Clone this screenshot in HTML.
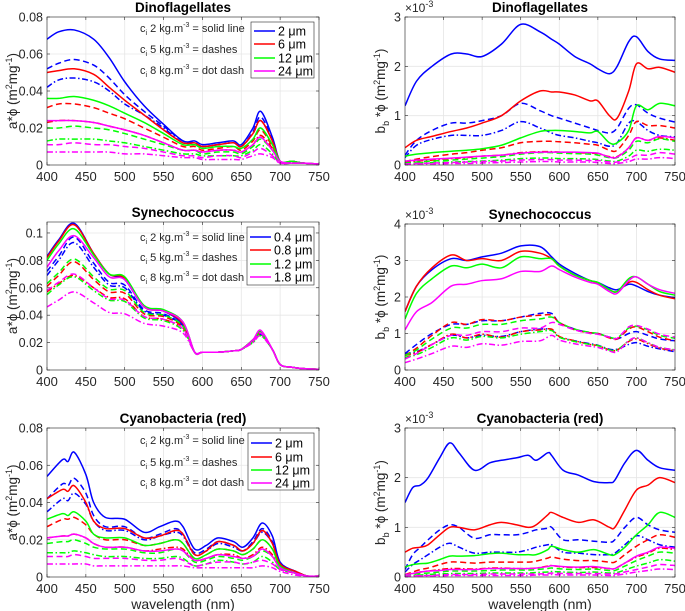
<!DOCTYPE html>
<html><head><meta charset="utf-8">
<style>
body{margin:0;background:#fff;}
svg{display:block;font-family:"Liberation Sans",sans-serif;}
</style></head>
<body>
<svg id="fig" width="685" height="611" viewBox="0 0 685 611" xmlns="http://www.w3.org/2000/svg"></svg>
<script>
// ---------- DATA ----------
const wlA = [400,415,435,460,480,500,525,550,575,590,600,620,640,650,665,675,690,700,715,730,750];
const wlC = [400,420,427,435,450,460,475,500,525,545,565,575,590,605,620,640,652,665,677,690,700,720,735,750];
const wlD = [400,410,420,430,445,458,470,490,510,525,545,560,570,585,590,605,625,645,665,672,685,700,715,730,750];

// Panel 1: Dinoflagellates a*
const dinoA_blue_solid = [.068,.072,.073,.068,.058,.045,.032,.022,.013,.013,.011,.012,.013,.011,.020,.029,.015,.002,.002,.001,.0005];
const dinoA_blue_dash  = [.052,.055,.057,.054,.047,.038,.029,.021,.013,.012,.010,.011,.012,.010,.018,.026,.014,.002,.002,.001,.0005];
const dinoA_blue_dd    = [.042,.046,.047,.045,.040,.033,.027,.020,.012,.012,.010,.011,.012,.010,.017,.024,.013,.002,.002,.001,.0005];
const dinoA_red_solid  = [.050,.051,.052,.049,.042,.035,.027,.019,.012,.012,.010,.011,.012,.010,.017,.024,.013,.002,.002,.001,.0005];
const dinoA_red_dash   = [.031,.033,.033,.031,.028,.025,.020,.015,.010,.010,.008,.009,.010,.008,.013,.019,.010,.002,.001,.001,.0005];
const dinoA_red_dd     = [.023,.024,.024,.023,.021,.019,.016,.012,.008,.008,.007,.008,.008,.007,.011,.016,.009,.002,.001,.001,.0005];
const dinoA_green_solid= [.036,.036,.037,.035,.032,.028,.023,.017,.011,.011,.009,.010,.010,.009,.014,.020,.011,.002,.002,.001,.0005];
const dinoA_green_dash = [.020,.020,.021,.020,.019,.017,.014,.011,.008,.008,.006,.007,.007,.006,.010,.014,.008,.002,.001,.001,.0005];
const dinoA_green_dd   = [.013,.014,.014,.014,.013,.012,.010,.008,.006,.006,.005,.005,.005,.005,.008,.011,.006,.001,.001,.001,.0005];
const dinoA_mag_solid  = [.024,.024,.024,.023,.021,.019,.016,.012,.008,.008,.007,.008,.008,.007,.011,.015,.008,.002,.001,.001,.0005];
const dinoA_mag_dash   = [.011,.011,.012,.011,.011,.010,.009,.007,.005,.005,.004,.005,.005,.004,.007,.009,.005,.001,.001,.001,.0005];
const dinoA_mag_dd     = [.007,.007,.007,.007,.007,.006,.006,.005,.004,.004,.003,.003,.003,.003,.005,.006,.004,.001,.001,.001,.0005];

// Panel 2: Dinoflagellates bb (x1e-3)
const dinoB_blue_solid = [1.2,1.7,2.0,2.25,2.25,2.2,2.45,2.85,2.7,2.55,2.45,2.2,2.05,1.95,1.85,2.0,2.5,2.6,2.3,2.15,2.12];
const dinoB_blue_dash  = [.2,.5,.7,.85,.85,.9,1.0,1.25,1.1,1.0,.95,.85,.75,.7,.65,.75,1.15,1.22,1.05,.95,.87];
const dinoB_blue_dd    = [.15,.4,.52,.6,.6,.6,.7,.88,.75,.65,.6,.55,.48,.45,.38,.45,.85,.88,.7,.6,.57];
const dinoB_red_solid  = [.35,.5,.58,.68,.75,.85,1.0,1.3,1.5,1.48,1.48,1.42,1.3,1.3,1.0,.95,1.5,2.05,1.95,1.98,1.88];
const dinoB_red_dash   = [.07,.12,.17,.22,.25,.3,.35,.45,.48,.48,.47,.45,.42,.4,.3,.3,.6,.88,.8,.8,.75];
const dinoB_red_dd     = [.05,.08,.1,.13,.15,.18,.2,.25,.27,.27,.26,.25,.24,.23,.17,.17,.35,.55,.5,.55,.5];
const dinoB_green_solid= [.18,.22,.25,.28,.3,.33,.4,.55,.68,.7,.7,.68,.65,.68,.45,.45,.7,1.2,1.12,1.25,1.2];
const dinoB_green_dash = [.04,.06,.08,.1,.12,.14,.17,.22,.25,.25,.24,.23,.22,.2,.15,.15,.3,.48,.45,.53,.48];
const dinoB_green_dd   = [.03,.04,.05,.06,.07,.08,.1,.13,.14,.14,.13,.13,.12,.11,.08,.08,.18,.3,.28,.32,.3];
const dinoB_mag_solid  = [.08,.1,.12,.14,.16,.18,.2,.24,.26,.26,.26,.26,.25,.24,.16,.16,.35,.55,.5,.58,.55];
const dinoB_mag_dash   = [.02,.03,.04,.05,.06,.07,.08,.1,.11,.11,.1,.1,.09,.09,.06,.06,.12,.2,.2,.25,.22];
const dinoB_mag_dd     = [.01,.02,.02,.03,.03,.04,.05,.06,.07,.07,.06,.06,.06,.05,.03,.03,.07,.12,.12,.15,.13];

// Panel 3: Synechococcus a*
const synA_blue_solid = [.083,.095,.107,.085,.070,.066,.046,.043,.033,.013,.013,.013,.014,.015,.022,.028,.015,.004,.002,.001,.0005];
const synA_red_solid  = [.082,.094,.106,.085,.070,.067,.046,.043,.034,.013,.013,.013,.014,.015,.022,.028,.015,.004,.002,.001,.0005];
const synA_green_solid= [.080,.092,.103,.084,.070,.068,.047,.044,.035,.013,.013,.013,.014,.015,.022,.028,.015,.004,.002,.001,.0005];
const synA_mag_solid  = [.075,.087,.098,.082,.068,.066,.046,.043,.035,.013,.013,.013,.014,.015,.022,.029,.015,.004,.002,.001,.0005];
const synA_blue_dash  = [.072,.083,.097,.078,.064,.062,.044,.041,.032,.013,.013,.013,.014,.015,.021,.027,.015,.004,.002,.001,.0005];
const synA_red_dash   = [.061,.069,.079,.066,.057,.056,.041,.039,.031,.013,.013,.013,.014,.015,.021,.027,.015,.004,.002,.001,.0005];
const synA_green_dash = [.063,.071,.081,.068,.059,.058,.042,.040,.032,.013,.013,.013,.014,.015,.021,.026,.015,.004,.002,.001,.0005];
const synA_mag_dash   = [.058,.064,.070,.060,.052,.051,.039,.037,.030,.013,.013,.013,.014,.015,.021,.027,.015,.004,.002,.001,.0005];
const synA_blue_dd    = [.069,.080,.093,.075,.062,.060,.043,.040,.032,.013,.013,.013,.014,.015,.021,.026,.015,.004,.002,.001,.0005];
const synA_red_dd     = [.057,.063,.069,.060,.053,.052,.039,.037,.030,.013,.013,.013,.014,.015,.021,.026,.015,.004,.002,.001,.0005];
const synA_green_dd   = [.055,.062,.068,.058,.051,.050,.038,.036,.029,.013,.013,.013,.014,.015,.020,.025,.015,.004,.002,.001,.0005];
const synA_mag_dd     = [.046,.051,.057,.049,.042,.041,.034,.032,.027,.013,.013,.013,.014,.015,.020,.025,.015,.004,.002,.001,.0005];

// Panel 4: Synechococcus bb (x1e-3)
const synB_blue_solid = [1.6,2.3,2.75,3.05,3.0,3.1,3.2,3.4,3.38,3.1,2.9,2.65,2.45,2.4,2.25,2.2,2.35,2.3,2.15,2.05,1.98];
const synB_red_solid  = [1.6,2.3,2.8,3.15,3.0,3.05,3.0,3.25,3.2,3.05,2.85,2.6,2.45,2.38,2.2,2.15,2.4,2.4,2.2,2.05,1.95];
const synB_green_solid= [1.4,2.1,2.5,2.85,2.8,2.9,2.8,3.1,3.05,3.05,2.85,2.6,2.45,2.4,2.2,2.15,2.5,2.55,2.35,2.15,2.05];
const synB_mag_solid  = [1.1,1.6,1.85,2.3,2.35,2.45,2.5,2.7,2.7,2.85,2.75,2.55,2.4,2.35,2.15,2.1,2.45,2.55,2.35,2.2,2.1];
const synB_blue_dash  = [.45,.7,1.0,1.25,1.25,1.35,1.35,1.45,1.55,1.55,1.3,1.12,1.02,1.0,.9,.85,1.0,1.05,.95,.85,.8];
const synB_red_dash   = [.4,.6,.95,1.3,1.25,1.38,1.35,1.45,1.5,1.5,1.3,1.1,1.02,1.0,.88,.85,1.12,1.18,1.05,.9,.8];
const synB_green_dash = [.4,.55,.85,1.15,1.15,1.25,1.25,1.35,1.4,1.45,1.3,1.12,1.03,1.0,.9,.88,1.15,1.2,1.1,.95,.87];
const synB_mag_dash   = [.3,.45,.7,.95,.95,1.05,1.05,1.15,1.15,1.3,1.25,1.1,1.0,.98,.9,.87,1.18,1.22,1.12,.98,.9];
const synB_blue_dd    = [.45,.5,.7,.95,.88,.95,.92,1.05,1.12,1.1,.9,.8,.72,.68,.57,.57,.7,.75,.65,.58,.5];
const synB_red_dd     = [.4,.48,.7,.98,.88,.98,.9,1.05,1.1,1.12,.92,.8,.7,.67,.55,.55,.78,.85,.72,.6,.52];
const synB_green_dd   = [.35,.42,.62,.88,.82,.92,.88,.98,1.05,1.08,.9,.78,.7,.67,.55,.55,.8,.88,.75,.62,.55];
const synB_mag_dd     = [.2,.3,.45,.65,.62,.72,.68,.78,.8,.95,.82,.72,.65,.62,.52,.5,.8,.88,.75,.62,.55];

// Panel 5: Cyanobacteria a*
const cyaA_blue_solid = [.054,.063,.062,.067,.055,.040,.032,.031,.024,.027,.030,.027,.015,.017,.021,.019,.016,.021,.029,.022,.008,.003,.0005,.0005];
const cyaA_blue_dash  = [.042,.050,.049,.053,.045,.033,.027,.027,.021,.023,.026,.023,.013,.015,.019,.017,.014,.019,.026,.019,.007,.003,.0005,.0005];
const cyaA_blue_dd    = [.035,.042,.041,.045,.039,.030,.025,.025,.020,.022,.024,.022,.012,.014,.018,.016,.014,.018,.024,.018,.007,.003,.0005,.0005];
const cyaA_red_solid  = [.042,.047,.046,.049,.040,.030,.026,.026,.021,.022,.025,.023,.012,.014,.019,.017,.014,.018,.025,.018,.007,.003,.0005,.0005];
const cyaA_red_dash   = [.027,.031,.031,.032,.028,.023,.020,.020,.017,.018,.020,.018,.010,.012,.015,.014,.012,.015,.020,.015,.006,.002,.0005,.0005];
const cyaA_red_dd     = [.021,.022,.022,.023,.021,.018,.016,.016,.014,.015,.016,.015,.009,.010,.012,.012,.010,.012,.016,.012,.005,.002,.0005,.0005];
const cyaA_green_solid= [.031,.034,.033,.035,.030,.023,.021,.021,.017,.018,.020,.018,.010,.012,.015,.014,.012,.015,.020,.015,.006,.002,.0005,.0005];
const cyaA_green_dash = [.018,.019,.019,.020,.018,.016,.015,.015,.013,.013,.015,.014,.008,.009,.011,.010,.009,.011,.014,.011,.005,.002,.0005,.0005];
const cyaA_green_dd   = [.013,.013,.013,.014,.013,.012,.011,.011,.010,.010,.011,.010,.006,.007,.009,.008,.007,.008,.011,.008,.004,.002,.0005,.0005];
const cyaA_mag_solid  = [.021,.022,.022,.023,.021,.018,.016,.016,.014,.014,.015,.014,.009,.010,.012,.011,.010,.011,.015,.011,.005,.002,.0005,.0005];
const cyaA_mag_dash   = [.011,.011,.011,.012,.011,.010,.010,.010,.009,.009,.010,.009,.006,.007,.008,.008,.007,.008,.009,.007,.004,.002,.0005,.0005];
const cyaA_mag_dd     = [.007,.007,.007,.007,.007,.006,.006,.006,.006,.006,.006,.006,.005,.005,.005,.005,.005,.005,.006,.005,.003,.001,.0005,.0005];

// Panel 6: Cyanobacteria bb (x1e-3)
const cyaB_blue_solid = [1.5,1.8,1.85,2.0,2.4,2.7,2.5,2.15,2.3,2.35,2.4,2.45,2.35,2.5,2.45,2.15,2.05,1.92,1.9,1.95,2.3,2.55,2.35,2.2,2.15];
const cyaB_blue_dash  = [.15,.45,.6,.75,.95,1.05,1.0,.78,.85,.85,.85,.9,.95,.98,1.0,.75,.75,.72,.7,.75,1.0,1.2,1.05,.95,.9];
const cyaB_blue_dd    = [.1,.25,.35,.45,.6,.68,.6,.48,.5,.5,.5,.55,.6,.65,.65,.5,.48,.45,.45,.48,.65,.83,.75,.65,.6];
const cyaB_red_solid  = [.5,.58,.6,.65,.85,1.0,1.0,.95,1.05,1.1,1.05,1.0,1.05,1.25,1.3,1.2,1.1,1.15,1.0,1.0,1.35,1.75,1.85,2.0,1.9];
const cyaB_red_dash   = [.05,.1,.15,.18,.25,.3,.3,.28,.3,.3,.3,.3,.32,.38,.4,.36,.33,.33,.3,.3,.45,.62,.75,.85,.8];
const cyaB_red_dd     = [.05,.07,.1,.12,.15,.17,.17,.16,.18,.18,.17,.17,.18,.22,.23,.2,.19,.19,.17,.17,.28,.4,.48,.58,.55];
const cyaB_green_solid= [.2,.25,.27,.28,.35,.42,.42,.43,.47,.48,.45,.45,.45,.55,.62,.55,.5,.55,.45,.45,.6,.85,1.05,1.3,1.2];
const cyaB_green_dash = [.03,.05,.07,.08,.1,.12,.12,.12,.13,.14,.14,.14,.15,.17,.18,.16,.15,.16,.13,.13,.22,.33,.42,.5,.48];
const cyaB_green_dd   = [.02,.03,.04,.05,.06,.07,.07,.07,.08,.08,.08,.08,.09,.1,.11,.1,.09,.1,.08,.08,.14,.22,.28,.35,.32];
const cyaB_mag_solid  = [.05,.07,.1,.12,.13,.15,.15,.15,.17,.17,.17,.17,.18,.21,.23,.21,.2,.21,.17,.17,.28,.42,.5,.6,.58];
const cyaB_mag_dash   = [.02,.02,.03,.03,.04,.05,.05,.05,.06,.06,.06,.06,.06,.07,.08,.07,.07,.07,.06,.06,.1,.15,.2,.25,.23];
const cyaB_mag_dd     = [.01,.01,.02,.02,.02,.03,.03,.03,.03,.03,.03,.03,.04,.04,.05,.04,.04,.04,.03,.03,.06,.1,.13,.16,.15];

const xTicks = [400,450,500,550,600,650,700,750];
const yTicksA = [0,0.02,0.04,0.06,0.08];
const yTicksA2 = [0,0.02,0.04,0.06,0.08,0.1];
const yTicksB3 = [0,1,2,3];
const yTicksB4 = [0,1,2,3,4];
const legendBig = ["2 \u03bcm","6 \u03bcm","12 \u03bcm","24 \u03bcm"];
const legendSyn = ["0.4 \u03bcm","0.8 \u03bcm","1.2 \u03bcm","1.8 \u03bcm"];

// ---------- DRAW ----------
const NS = "http://www.w3.org/2000/svg";
const svg = document.getElementById('fig');
const COL = {blue:'#0000ff', red:'#ff0000', green:'#00ff00', mag:'#ff00ff'};
const DASH = {solid:null, dash:'6,3.5', dd:'6,2.5,1.5,2.5'};
let clipId = 0;

function mk(tag, attrs, parent){
  const e = document.createElementNS(NS, tag);
  for (const k in attrs) e.setAttribute(k, attrs[k]);
  (parent||svg).appendChild(e);
  return e;
}
function smoothPath(pts){
  let d = `M${pts[0][0].toFixed(2)},${pts[0][1].toFixed(2)}`;
  for (let i=0;i<pts.length-1;i++){
    const p0 = pts[Math.max(0,i-1)], p1 = pts[i], p2 = pts[i+1], p3 = pts[Math.min(pts.length-1,i+2)];
    const c1x = p1[0]+(p2[0]-p0[0])/6, c1y = p1[1]+(p2[1]-p0[1])/6;
    const c2x = p2[0]-(p3[0]-p1[0])/6, c2y = p2[1]-(p3[1]-p1[1])/6;
    d += ` C${c1x.toFixed(2)},${c1y.toFixed(2)} ${c2x.toFixed(2)},${c2y.toFixed(2)} ${p2[0].toFixed(2)},${p2[1].toFixed(2)}`;
  }
  return d;
}

function panel(cfg){
  const g = mk('g', {});
  
  
  const {x0,x1,y0,y1,ymax} = cfg;
  const sx = v => x0 + (v-400)/(750-400)*(x1-x0);
  const sy = v => y1 - v/ymax*(y1-y0);
  mk('rect', {x:x0,y:y0,width:x1-x0,height:y1-y0,fill:'#fff'}, g);
  xTicks.forEach(t => { mk('line',{x1:sx(t),x2:sx(t),y1:y0,y2:y1,stroke:'#e6e6e6','stroke-width':0.8},g); });
  cfg.yTicks.forEach(t => { mk('line',{x1:x0,x2:x1,y1:sy(t),y2:sy(t),stroke:'#e6e6e6','stroke-width':0.8},g); });
  const id = 'clip'+(clipId++);
  const cp = mk('clipPath',{id:id},g);
  mk('rect',{x:x0,y:y0,width:x1-x0,height:y1-y0},cp);
  const sg = mk('g',{'clip-path':`url(#${id})`},g);
  cfg.series.forEach(s => {
    const pts = cfg.wl.map((w,i)=>[sx(w), sy(s.data[i])]);
    const p = mk('path',{d:smoothPath(pts),fill:'none',stroke:COL[s.c],'stroke-width':1.5,'stroke-linejoin':'round'},sg);
    if (DASH[s.st]) p.setAttribute('stroke-dasharray', DASH[s.st]);
    
    
  });
  mk('rect',{x:x0,y:y0,width:x1-x0,height:y1-y0,fill:'none',stroke:'#262626','stroke-width':0.6},g);
  xTicks.forEach(t => {
    mk('line',{x1:sx(t),x2:sx(t),y1:y1,y2:y1-3,stroke:'#262626','stroke-width':0.6},g);
    mk('line',{x1:sx(t),x2:sx(t),y1:y0,y2:y0+3,stroke:'#262626','stroke-width':0.6},g);
    const tx = mk('text',{x:sx(t),y:y1+16,'text-anchor':'middle','font-size':13,fill:'#262626'},g);
    tx.textContent = t;
    
    
  });
  cfg.yTicks.forEach(t => {
    mk('line',{x1:x0,x2:x0+3,y1:sy(t),y2:sy(t),stroke:'#262626','stroke-width':0.6},g);
    mk('line',{x1:x1,x2:x1-3,y1:sy(t),y2:sy(t),stroke:'#262626','stroke-width':0.6},g);
    const tx = mk('text',{x:x0-4,y:sy(t)+4.5,'text-anchor':'end','font-size':12.5,fill:'#262626'},g);
    tx.textContent = cfg.fmt(t);
    
    
  });
  const ti = mk('text',{x:(x0+x1)/2,y:y0-5,'text-anchor':'middle','font-size':13.5,'font-weight':'bold',fill:'#000'},g);
  ti.textContent = cfg.title;
  
  
  const yl = mk('text',{transform:`translate(${cfg.ylx},${(y0+y1)/2}) rotate(-90)`,'text-anchor':'middle','font-size':13.5,fill:'#262626'},g);
  
  
  yl.innerHTML = cfg.ylabel;
  if (cfg.exp){
    const e = mk('text',{x:x0,y:y0-5,'font-size':12,fill:'#262626'},g);
    e.innerHTML = '\u00d710<tspan dy="-5" font-size="9">-3</tspan>';
    
    
  }
  if (cfg.xlabel){
    const xl = mk('text',{x:(x0+x1)/2,y:y1+32,'text-anchor':'middle','font-size':14,fill:'#262626'},g);
    xl.textContent = 'wavelength (nm)';
    
    
  }
  if (cfg.legend){
    const L = cfg.legend;
    const ann = ['2 kg.m','5 kg.m','8 kg.m'], tail = ['= solid line','= dashes','= dot dash'];
    L.annY.forEach((yy,i)=>{
      const a = mk('text',{x:140,y:yy+4,'font-size':11,fill:'#262626'},g);
      a.innerHTML = `c<tspan dy="3" font-size="7">i</tspan><tspan dy="-3"> ${ann[i]}</tspan><tspan dy="-5" font-size="7">-3</tspan><tspan dy="5"> ${tail[i]}</tspan>`;
      
      
    });
    const lg = mk('g',{},g);
    
    
    mk('rect',{x:L.bx,y:L.by,width:L.bw,height:L.bh,fill:'#fff',stroke:'#262626','stroke-width':0.6},lg);
    ['blue','red','green','mag'].forEach((c,i)=>{
      const yy = L.rows[i];
      mk('line',{x1:L.bx+3,x2:L.bx+24,y1:yy,y2:yy,stroke:COL[c],'stroke-width':1.5},lg);
      const t = mk('text',{x:L.bx+27,y:yy+4.5,'font-size':12.5,fill:'#000'},lg);
      t.textContent = L.labels[i];
      
      
    });
  }
}
function S(prefix){
  const out = [];
  ['blue','red','green','mag'].forEach(c => ['solid','dash','dd'].forEach(st => {
    out.push({c, st, data: window.eval(`${prefix}_${c}_${st}`)});
  }));
  return out;
}
const fmtA = t => t===0?'0':(Math.round(t*100)/100).toString();
const fmtB = t => String(t);
const ylA = 'a*\u03d5 (m<tspan dy="-5" font-size="9">2</tspan><tspan dy="5">mg</tspan><tspan dy="-5" font-size="9">-1</tspan><tspan dy="5">)</tspan>';
const ylB = 'b<tspan dy="4" font-size="9">b</tspan><tspan dy="-4"> *\u03d5 (m</tspan><tspan dy="-5" font-size="9">2</tspan><tspan dy="5">mg</tspan><tspan dy="-5" font-size="9">-1</tspan><tspan dy="5">)</tspan>';

panel({name:'dinoflagellates-absorption-panel',title:'Dinoflagellates',x0:47,x1:319,y0:17,y1:165,ymax:0.08,yTicks:yTicksA,fmt:fmtA,wl:wlA,series:S('dinoA'),ylx:17,ylabel:ylA,
  legend:{annY:[28,49,70],bx:251,by:22,bw:63,bh:56,rows:[31,44,58,71],labels:legendBig}});
panel({name:'dinoflagellates-backscatter-panel',title:'Dinoflagellates',x0:405,x1:675,y0:17,y1:165,ymax:3,yTicks:yTicksB3,fmt:fmtB,wl:wlA,series:S('dinoB'),ylx:385,ylabel:ylB,exp:true});
panel({name:'synechococcus-absorption-panel',title:'Synechococcus',x0:47,x1:319,y0:222,y1:370,ymax:0.108,yTicks:yTicksA2,fmt:fmtA,wl:wlA,series:S('synA'),ylx:17,ylabel:ylA,
  legend:{annY:[237,257,277],bx:247,by:227,bw:67,bh:58,rows:[237,250,264,277],labels:legendSyn}});
panel({name:'synechococcus-backscatter-panel',title:'Synechococcus',x0:405,x1:675,y0:224,y1:370,ymax:4,yTicks:yTicksB4,fmt:fmtB,wl:wlA,series:S('synB'),ylx:385,ylabel:ylB,exp:true});
panel({name:'cyanobacteria-absorption-panel',title:'Cyanobacteria (red)',x0:47,x1:319,y0:428,y1:577,ymax:0.08,yTicks:yTicksA,fmt:fmtA,wl:wlC,series:S('cyaA'),ylx:17,ylabel:ylA,xlabel:true,
  legend:{annY:[440,462,482],bx:248,by:433,bw:66,bh:57,rows:[443,457,470,483],labels:legendBig}});
panel({name:'cyanobacteria-backscatter-panel',title:'Cyanobacteria (red)',x0:405,x1:675,y0:428,y1:577,ymax:3,yTicks:yTicksB3,fmt:fmtB,wl:wlD,series:S('cyaB'),ylx:385,ylabel:ylB,exp:true,xlabel:true});
</script>
</body></html>
